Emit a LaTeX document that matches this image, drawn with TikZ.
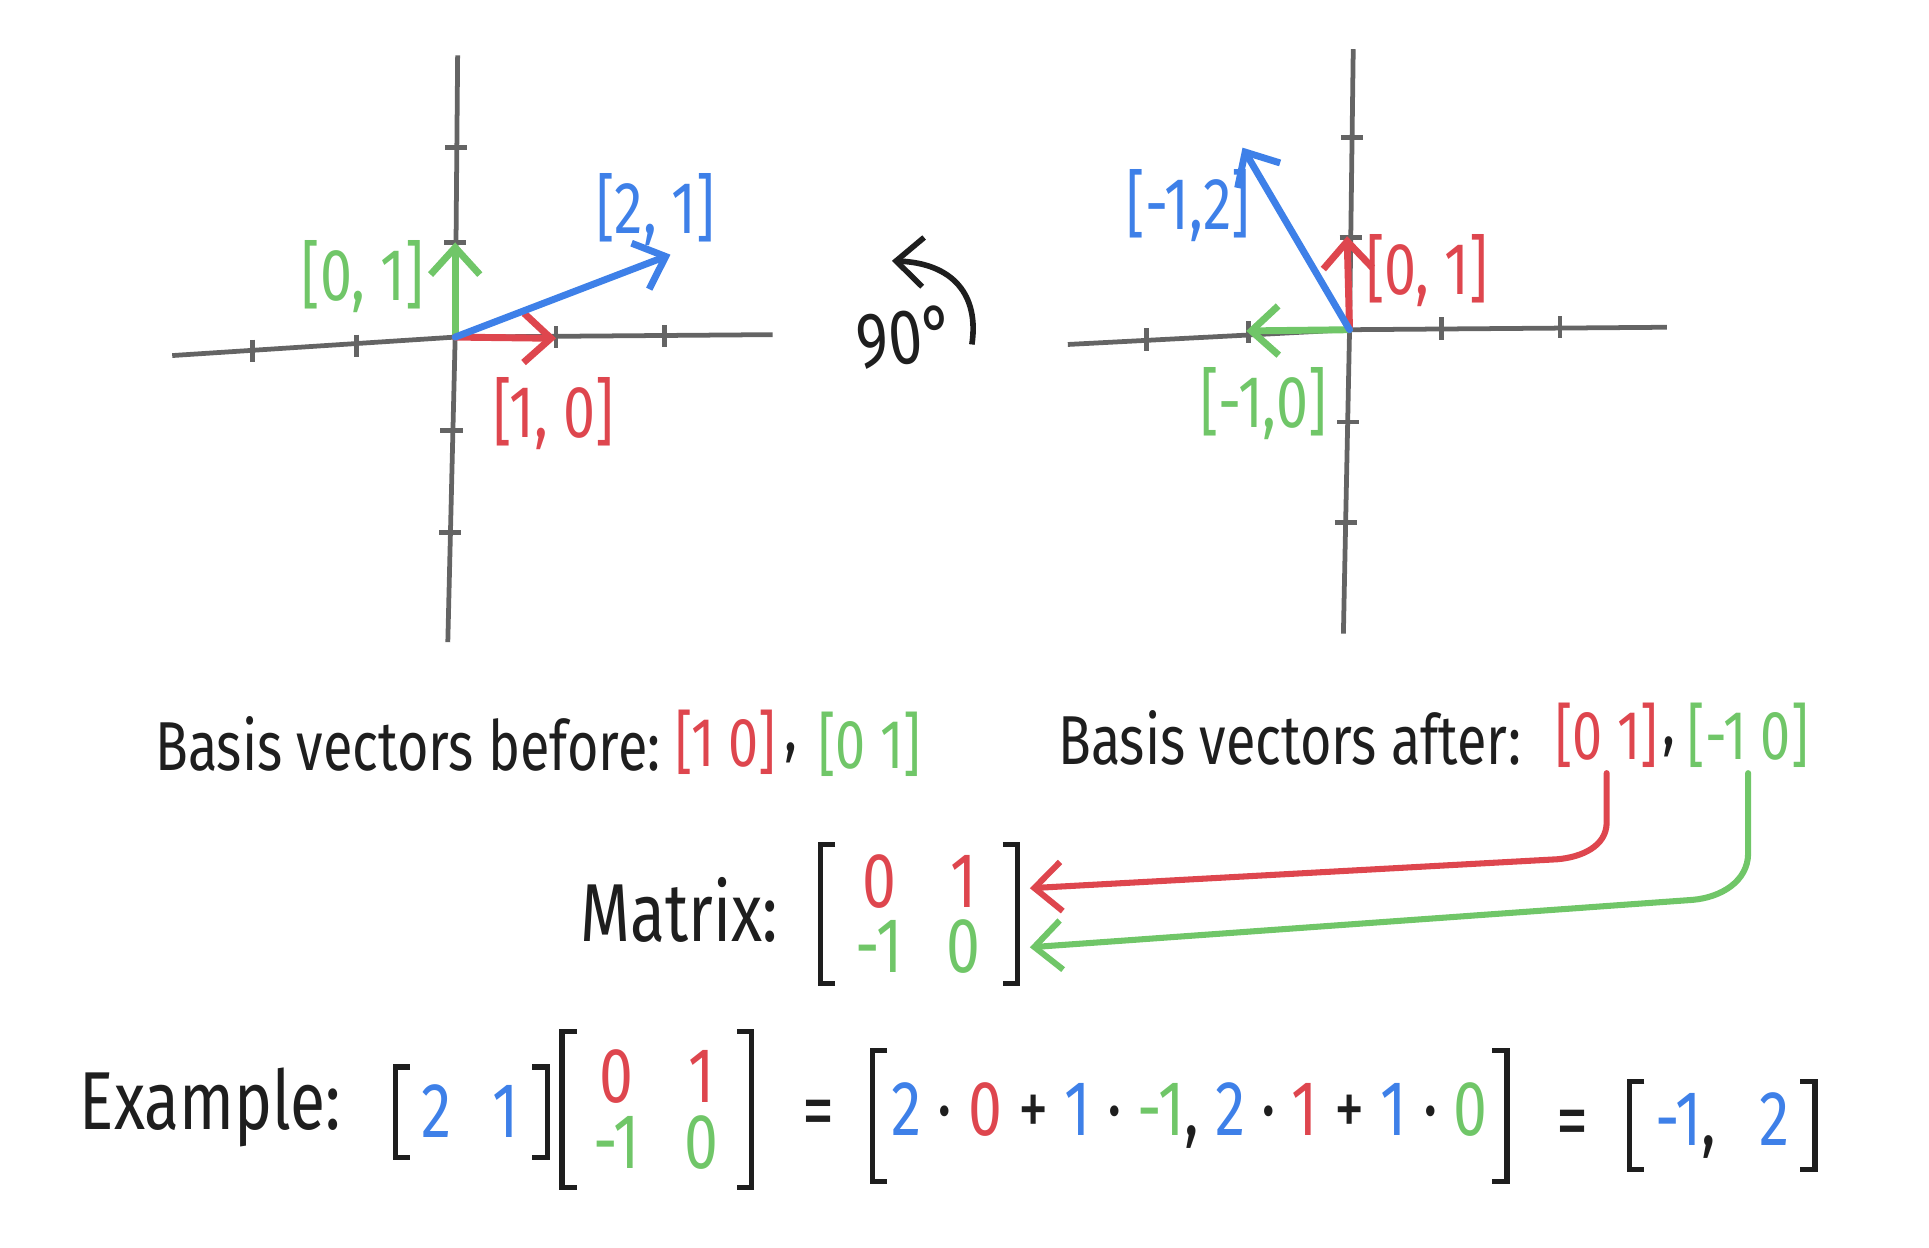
\documentclass[tikz,border=0pt]{standalone}
\usepackage{fontspec}
\setmainfont{Fira Sans}[FakeStretch=0.78]
\usepackage{xcolor}
\usetikzlibrary{arrows.meta,matrix,positioning}

\definecolor{hred}{RGB}{222,70,78}
\definecolor{hgreen}{RGB}{112,198,104}
\definecolor{hblue}{RGB}{62,128,232}
\definecolor{hink}{RGB}{30,30,30}
\definecolor{haxis}{RGB}{100,100,100}

\newcommand{\redn}[1]{\textcolor{hred}{#1}}
\newcommand{\greenn}[1]{\textcolor{hgreen}{#1}}
\newcommand{\bluen}[1]{\textcolor{hblue}{#1}}

\begin{document}
\begin{tikzpicture}[x=0.01cm, y=-0.01cm,
    >={Straight Barb[length=2.2mm,width=4mm]},
    axline/.style={draw=haxis, line width=1.1pt},
    vec/.style={->, line width=1.6pt, line cap=round},
    link/.style={->, line width=1.4pt, line cap=round},
    brk/.style={draw=hink, line width=1.2pt},
    lbl/.style={font=\fontsize{17}{20}\selectfont, inner sep=1pt},
    hand/.style={font=\fontsize{16}{20}\selectfont, text=hink, inner sep=1pt},
    big/.style={font=\fontsize{19}{22}\selectfont},
    matbox/.style={matrix of nodes, row sep=0.11cm, column sep=0.35cm, inner xsep=0.28cm, inner ysep=0.08cm,
        nodes={font=\fontsize{18}{20}\selectfont, inner sep=0pt, text height=0.42cm, text depth=0pt, minimum width=0.3cm}},
    sumbox/.style={hand, font=\fontsize{18}{20}\selectfont, minimum height=1.05cm, inner xsep=0.15cm}]
    \useasboundingbox (0,0) rectangle (1568,1014);

    \coordinate (o_before) at (370,274);
    \draw[axline] (140,289) -- (o_before) -- (628,272);
    \draw[axline] (372,45) -- (o_before) -- (364,522);
    \foreach \x/\y in {205/285, 290/281, 452/274, 540/273}
        \draw[axline] (\x,\y-9) -- (\x,\y+9);
    \foreach \x/\y in {371/120, 370/197, 367/350, 366/433}
        \draw[axline] (\x-9,\y) -- (\x+9,\y);
    \coordinate (e1_before) at (452,275);
    \coordinate (e2_before) at (370,197);
    \coordinate (v_before) at (545,207);
    \draw[vec, hgreen] (o_before) -- (e2_before);
    \draw[vec, hred] (o_before) -- (e1_before);
    \draw[vec, hblue] (o_before) -- (v_before);
    \node[lbl, text=hblue] (v_before_lbl) at (533,170) {[2, 1]};
    \node[lbl, text=hgreen] (e2_before_lbl) at (295,225) {[0, 1]};
    \node[lbl, text=hred] (e1_before_lbl) at (450,336) {[1, 0]};

    \node[font=\fontsize{18}{22}\selectfont, text=hink, rotate=6] (angle) at (736,274) {90°};
    \coordinate (rot_start) at (790,280);
    \coordinate (rot_end) at (725,212);
    \draw[->, hink, line width=1.3pt] (rot_start) .. controls (796,240) and (775,214) .. (rot_end);

    \coordinate (o_after) at (1097,268);
    \draw[axline] (868,280) -- (o_after) -- (1355,266);
    \draw[axline] (1100,40) -- (o_after) -- (1092,515);
    \foreach \x/\y in {932/276, 1015/270, 1172/267, 1268/266}
        \draw[axline] (\x,\y-9) -- (\x,\y+9);
    \foreach \x/\y in {1099/112, 1098/193, 1096/343, 1094/425}
        \draw[axline] (\x-9,\y) -- (\x+9,\y);
    \coordinate (e1_after) at (1095,192);
    \coordinate (e2_after) at (1013,269);
    \coordinate (v_after) at (1010,120);
    \draw[vec, hred] (o_after) -- (e1_after);
    \draw[vec, hgreen] (o_after) -- (e2_after);
    \draw[vec, hblue] (o_after) -- (v_after);
    \node[lbl, text=hblue] (v_after_lbl) at (966,167) {[-1,2]};
    \node[lbl, text=hred] (e1_after_lbl) at (1160,220) {[0, 1]};
    \node[lbl, text=hgreen] (e2_after_lbl) at (1027,328) {[-1,0]};

    \node[hand, anchor=west] (before_lbl) at (122,605) {Basis vectors before:};
    \node[hand, text=hred] (before_e1) at (590,603) {[1 0]};
    \node[hand] (before_comma) at (643,612) {,};
    \node[hand, text=hgreen] (before_e2) at (707,605) {[0 1]};

    \node[hand, anchor=west] (after_lbl) at (856,600) {Basis vectors after:};
    \node[hand, text=hred] (after_e1) at (1306,598) {[0 1]};
    \node[hand] (after_comma) at (1357,607) {,};
    \node[hand, text=hgreen] (after_e2) at (1421,598) {[-1 0]};

    \node[hand, big] (mat_lbl) at (552,740) {Matrix:};
    \matrix[matbox] (rot_mat) at (747,743) {
        |[text=hred]| 0 & |[text=hred]| 1 \\
        |[text=hgreen]| -1 & |[text=hgreen]| 0 \\
    };
    \draw[link, hred] (after_e1.south) -- ++(0,40) to[out=-90, in=5] ++(-40,30)
        -- ([xshift=1mm,yshift=2.1mm]rot_mat.east);
    \draw[link, hgreen] (after_e2.south) -- ++(0,65) to[out=-90, in=5] ++(-45,38)
        -- ([xshift=1mm,yshift=-2.7mm]rot_mat.east);

    \node[hand, big] (ex_lbl) at (171,900) {Example:};
    \matrix[matbox, column sep=0.26cm, inner xsep=0.18cm, inner ysep=0.15cm] (ex_vec) at (383,904) {
        |[text=hblue]| 2 & |[text=hblue]| 1 \\
    };
    \matrix[matbox, inner xsep=0.25cm, inner ysep=0.15cm] (ex_mat) at (534,902) {
        |[text=hred]| 0 & |[text=hred]| 1 \\
        |[text=hgreen]| -1 & |[text=hgreen]| 0 \\
    };
    \node[hand, big] (ex_eq1) at (665,910) {=};
    \node[sumbox] (ex_sum) at (967,907) {\bluen{2} · \redn{0} + \bluen{1} · \greenn{-1}, \bluen{2} · \redn{1} + \bluen{1} · \greenn{0}};
    \node[hand, big] (ex_eq2) at (1278,918) {=};
    \node[sumbox, minimum height=0.7cm, inner xsep=0.2cm] (ex_res) at (1400,915) {\bluen{-1},\hspace{0.35cm}\bluen{2}};

    \foreach \n in {rot_mat, ex_vec, ex_mat, ex_sum, ex_res} {
        \draw[brk] ([xshift=1.2mm]\n.north west) -- (\n.north west) -- (\n.south west) -- ([xshift=1.2mm]\n.south west);
        \draw[brk] ([xshift=-1.2mm]\n.north east) -- (\n.north east) -- (\n.south east) -- ([xshift=-1.2mm]\n.south east);
    }
\end{tikzpicture}
\end{document}
